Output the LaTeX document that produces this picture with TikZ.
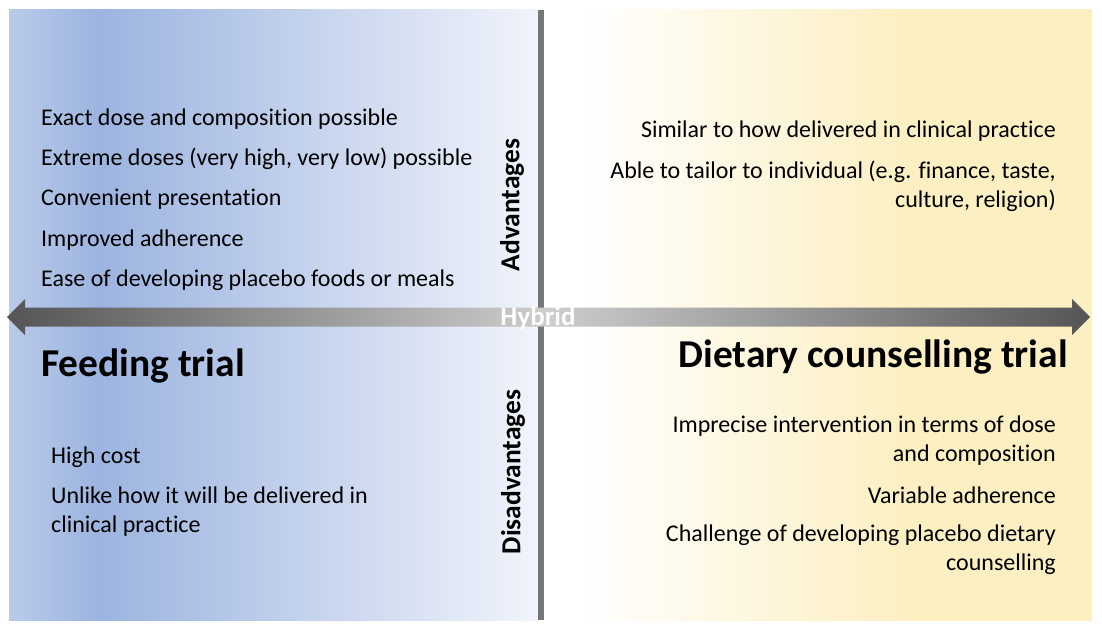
\documentclass[tikz,border=0pt]{standalone}
\usepackage{fontspec}
\setmainfont{Carlito}[Ligatures=NoCommon]
\usetikzlibrary{shadings}
\definecolor{blueA}{HTML}{BACBE9}
\definecolor{blueB}{HTML}{9CB4E0}
\definecolor{blueC}{HTML}{F1F4FB}
\definecolor{creamA}{HTML}{FFFFFF}
\definecolor{creamB}{HTML}{FCEFC2}
\definecolor{divgray}{HTML}{767676}
\definecolor{arrdark}{HTML}{555555}
\definecolor{arrlight}{HTML}{CDCDCD}
\pgfdeclarehorizontalshading{leftpanel}{100bp}{color(0bp)=(blueA); color(25bp)=(blueA); color(33.5bp)=(blueB); color(75bp)=(blueC); color(100bp)=(blueC)}
\pgfdeclarehorizontalshading{rightpanel}{100bp}{color(0bp)=(creamA); color(25bp)=(creamA); color(28bp)=(creamA); color(58bp)=(creamB); color(75bp)=(creamB); color(100bp)=(creamB)}
\tikzset{
  body/.style={font=\fontsize{24}{29}\selectfont, inner sep=0pt, text=black},
  lefttxt/.style={body, anchor=west, align=left},
  righttxt/.style={body, anchor=east, align=right},
  bigtitle/.style={font=\fontsize{39.5}{44}\selectfont\bfseries, inner sep=0pt},
  sidelabel/.style={font=\fontsize{27.5}{30}\selectfont\bfseries, inner sep=0pt, rotate=90},
}
\begin{document}
\begin{tikzpicture}[x=1pt,y=-1pt]
\useasboundingbox (0,0) rectangle (1102,628);
% panels
\shade[shading=leftpanel] (9,10) rectangle (538,620);
\shade[shading=rightpanel] (544,10) rectangle (1092,620);
\fill[divgray] (538,10) rectangle (544,620);
% double arrow
\shade[left color=arrdark, right color=arrdark, middle color=arrlight]
  (7,317) -- (25,299) -- (25,307.5) -- (1072,307.5) -- (1072,299) -- (1090,317)
  -- (1072,335) -- (1072,326.5) -- (25,326.5) -- (25,335) -- cycle;
\node[font=\fontsize{27}{30}\selectfont\bfseries, text=white, inner sep=0pt] (hyb) at (538,318) {Hybrid};
% side labels
\node[sidelabel] (adv) at (512,205) {Advantages};
\node[sidelabel] (dis) at (513,472) {Disadvantages};
% titles
\node[bigtitle, anchor=west] (feed) at (41,366) {Feeding trial};
\node[bigtitle, anchor=east] (diet) at (1068,357) {Dietary counselling trial};
% left advantages
\node[lefttxt] (la1) at (41,119) {Exact dose and composition possible};
\node[lefttxt] (la2) at (41,159) {Extreme doses (very high, very low) possible};
\node[lefttxt] (la3) at (41,199) {Convenient presentation};
\node[lefttxt] (la4) at (41,240) {Improved adherence};
\node[lefttxt] (la5) at (41,280) {Ease of developing placebo foods or meals};
% left disadvantages
\node[lefttxt] (ld1) at (51,457) {High cost};
\node[lefttxt] (ld2) at (51,511.5) {Unlike how it will be delivered in\\clinical practice};
% right advantages
\node[righttxt] (ra1) at (1056,131) {Similar to how delivered in clinical practice};
\node[righttxt] (ra2) at (1056,186.5) {Able to tailor to individual (e.g. finance, taste,\\culture, religion)};
% right disadvantages
\node[righttxt] (rd1) at (1056,440.5) {Imprecise intervention in terms of dose\\and composition};
\node[righttxt] (rd2) at (1056,495) {Variable adherence};
\node[righttxt] (rd3) at (1056,550) {Challenge of developing placebo dietary\\counselling};
\end{tikzpicture}
\end{document}
